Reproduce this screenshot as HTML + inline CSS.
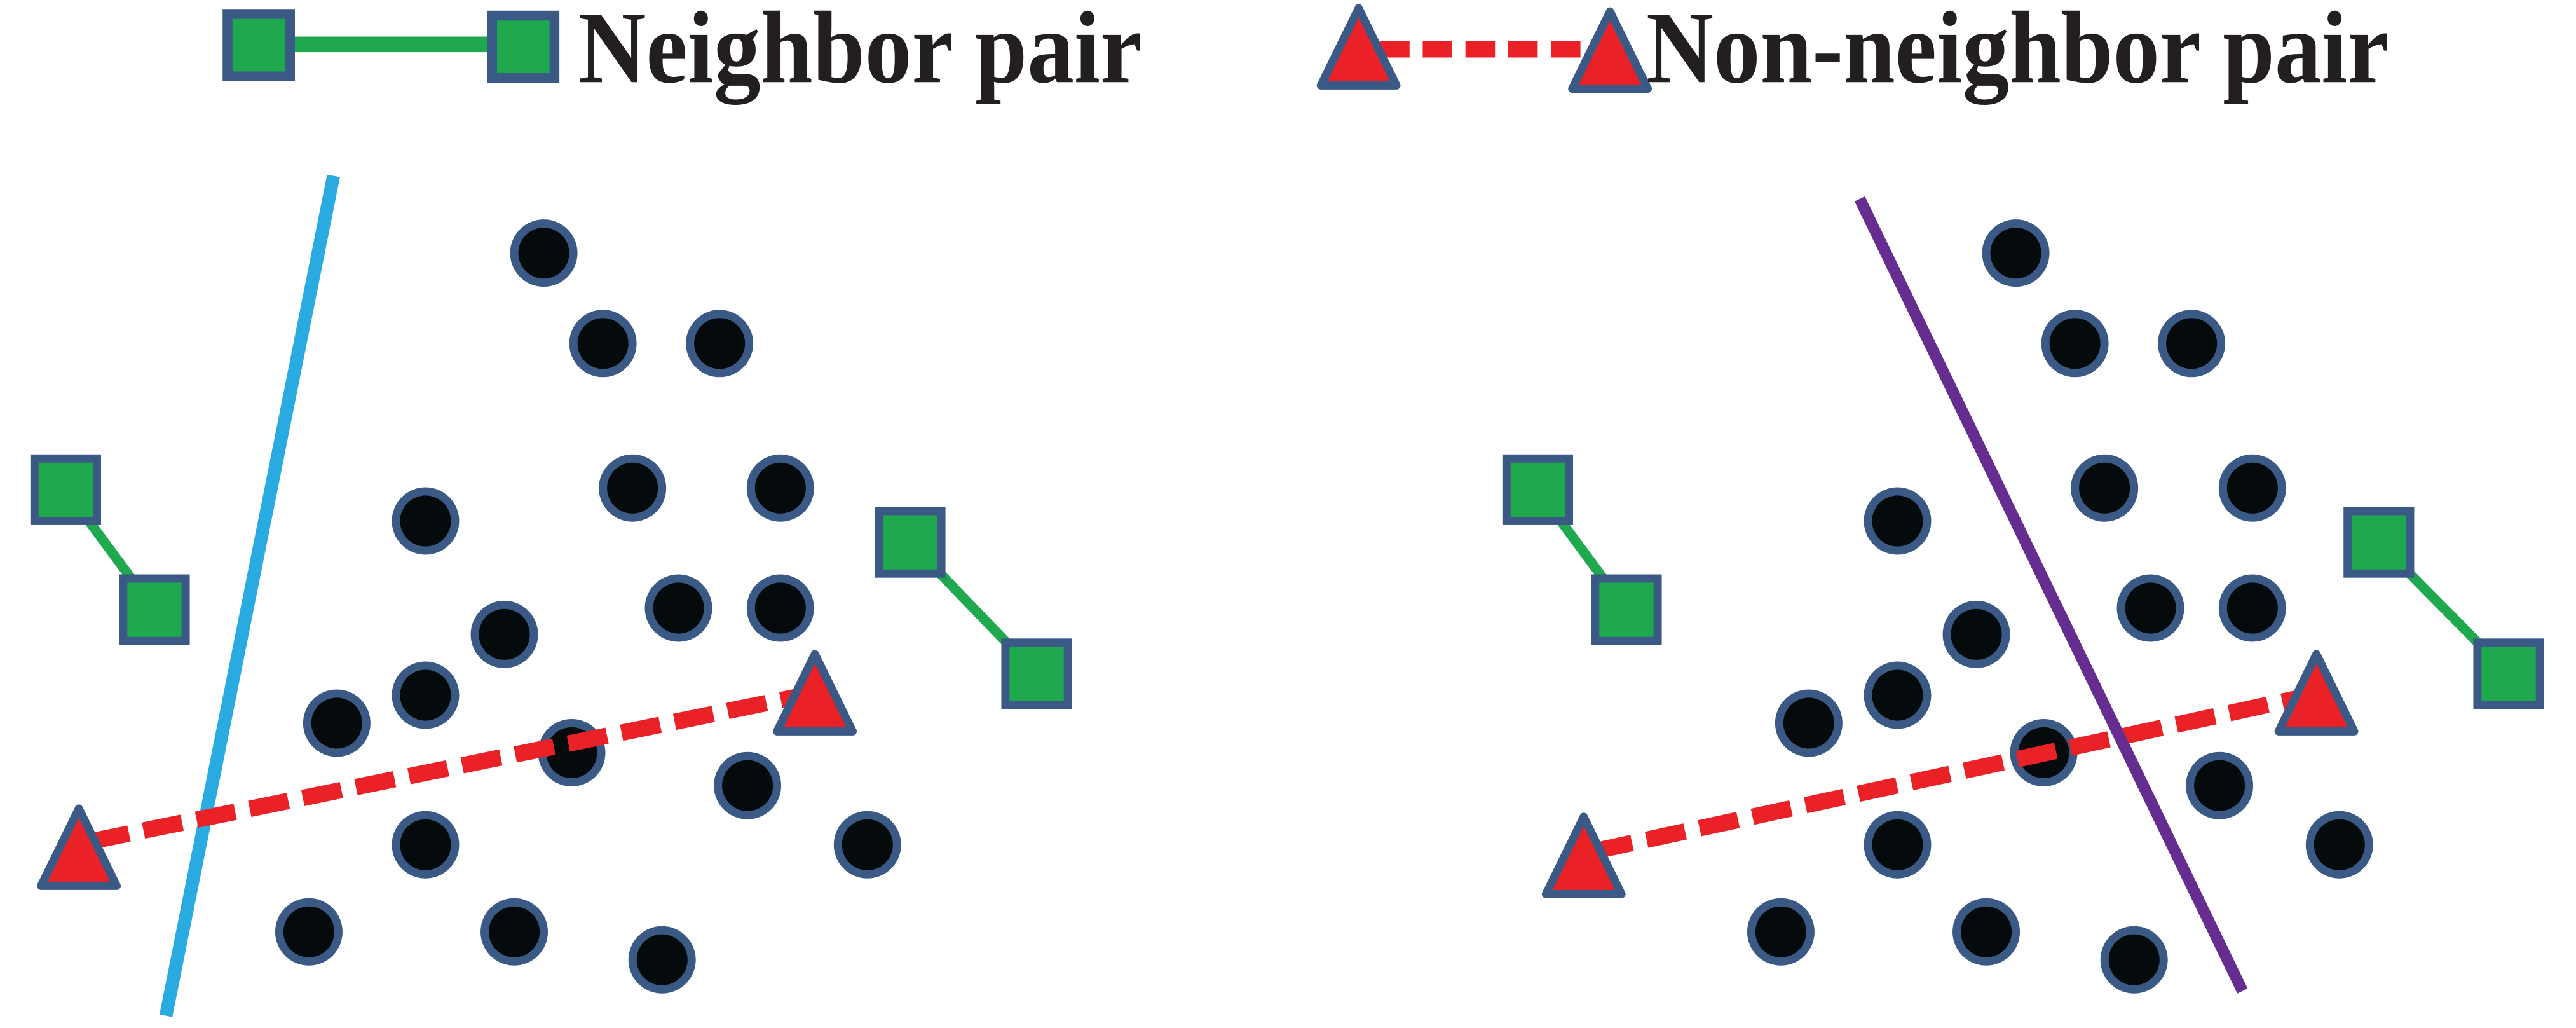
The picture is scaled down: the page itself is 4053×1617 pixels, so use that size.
<!DOCTYPE html>
<html><head><meta charset="utf-8"><style>html,body{margin:0;padding:0;background:#fff}svg{display:block}</style></head>
<body>
<svg width="4053" height="1617" viewBox="0 0 1568 625.5" preserveAspectRatio="none" xmlns="http://www.w3.org/2000/svg">
<defs>
<g id="c"><circle r="18" fill="#050a0c" stroke="#3a5a85" stroke-width="5"/></g>
<g id="s"><rect x="-19" y="-19" width="38" height="38" fill="#20a84e" stroke="#3a5a85" stroke-width="5"/></g>
<g id="t"><polygon points="0,-24 23,23 -23,23" fill="#ea2227" stroke="#3a5a85" stroke-width="5" stroke-linejoin="round"/></g>
</defs>
<!-- legend -->
<line x1="178" y1="27" x2="298" y2="27" stroke="#20a84e" stroke-width="9.5"/>
<rect x="138.5" y="8.5" width="38" height="38" fill="#20a84e" stroke="#3a5a85" stroke-width="6"/>
<rect x="299.5" y="9.5" width="38" height="38" fill="#20a84e" stroke="#3a5a85" stroke-width="6"/>
<g transform="translate(352,50) scale(1,1.12)">
<text x="0" y="0" font-family="Liberation Serif, serif" font-weight="bold" font-size="56" fill="#231f20" textLength="343" lengthAdjust="spacingAndGlyphs">Neighbor pair</text>
</g>
<line x1="840" y1="30" x2="965" y2="30" stroke="#ea2227" stroke-width="10" stroke-dasharray="18 8"/>
<use href="#t" x="827" y="29"/>
<use href="#t" x="980" y="31"/>
<g transform="translate(1002,50) scale(1,1.12)">
<text x="0" y="0" font-family="Liberation Serif, serif" font-weight="bold" font-size="56" fill="#231f20" textLength="452" lengthAdjust="spacingAndGlyphs">Non-neighbor pair</text>
</g>

<!-- left panel -->
<line x1="203" y1="107" x2="101" y2="618" stroke="#29abe2" stroke-width="8"/>
<g>
<use href="#c" x="331" y="154"/><use href="#c" x="367" y="209"/><use href="#c" x="438" y="209"/>
<use href="#c" x="259" y="317"/><use href="#c" x="385" y="297"/><use href="#c" x="475" y="297"/>
<use href="#c" x="413" y="370"/><use href="#c" x="475" y="370"/><use href="#c" x="307" y="386"/>
<use href="#c" x="259" y="423"/><use href="#c" x="205" y="440"/><use href="#c" x="348" y="458"/>
<use href="#c" x="455" y="478"/><use href="#c" x="528" y="514"/><use href="#c" x="259" y="514"/>
<use href="#c" x="188" y="567"/><use href="#c" x="313" y="567"/><use href="#c" x="403" y="584"/>
</g>
<line x1="40" y1="298" x2="94" y2="371" stroke="#20a84e" stroke-width="6"/>
<line x1="554" y1="330" x2="631" y2="410" stroke="#20a84e" stroke-width="6"/>
<use href="#s" x="40" y="298"/><use href="#s" x="94" y="371"/>
<use href="#s" x="554" y="330"/><use href="#s" x="631" y="410"/>
<line x1="55" y1="512" x2="485" y2="424" stroke="#ea2227" stroke-width="10" stroke-dasharray="24 9"/>
<use href="#t" x="48" y="516"/><use href="#t" x="496" y="422"/>

<!-- right panel -->
<g>
<use href="#c" x="1227" y="154"/><use href="#c" x="1263" y="209"/><use href="#c" x="1334" y="209"/>
<use href="#c" x="1155" y="317"/><use href="#c" x="1281" y="297"/><use href="#c" x="1371" y="297"/>
<use href="#c" x="1309" y="370"/><use href="#c" x="1371" y="370"/><use href="#c" x="1203" y="386"/>
<use href="#c" x="1155" y="423"/><use href="#c" x="1101" y="440"/><use href="#c" x="1244" y="458"/>
<use href="#c" x="1351" y="478"/><use href="#c" x="1424" y="514"/><use href="#c" x="1155" y="514"/>
<use href="#c" x="1084" y="567"/><use href="#c" x="1209" y="567"/><use href="#c" x="1299" y="584"/>
</g>
<line x1="936" y1="298" x2="990" y2="371" stroke="#20a84e" stroke-width="6"/>
<line x1="1448" y1="330" x2="1527" y2="410" stroke="#20a84e" stroke-width="6"/>
<use href="#s" x="936" y="298"/><use href="#s" x="990" y="371"/>
<use href="#s" x="1448" y="330"/><use href="#s" x="1527" y="410"/>
<line x1="970" y1="518" x2="1398" y2="425" stroke="#ea2227" stroke-width="10" stroke-dasharray="24 9"/>
<line x1="1132" y1="121" x2="1365" y2="603" stroke="#662d91" stroke-width="7"/>
<use href="#t" x="964" y="521"/><use href="#t" x="1410" y="422"/>
</svg>
</body></html>
